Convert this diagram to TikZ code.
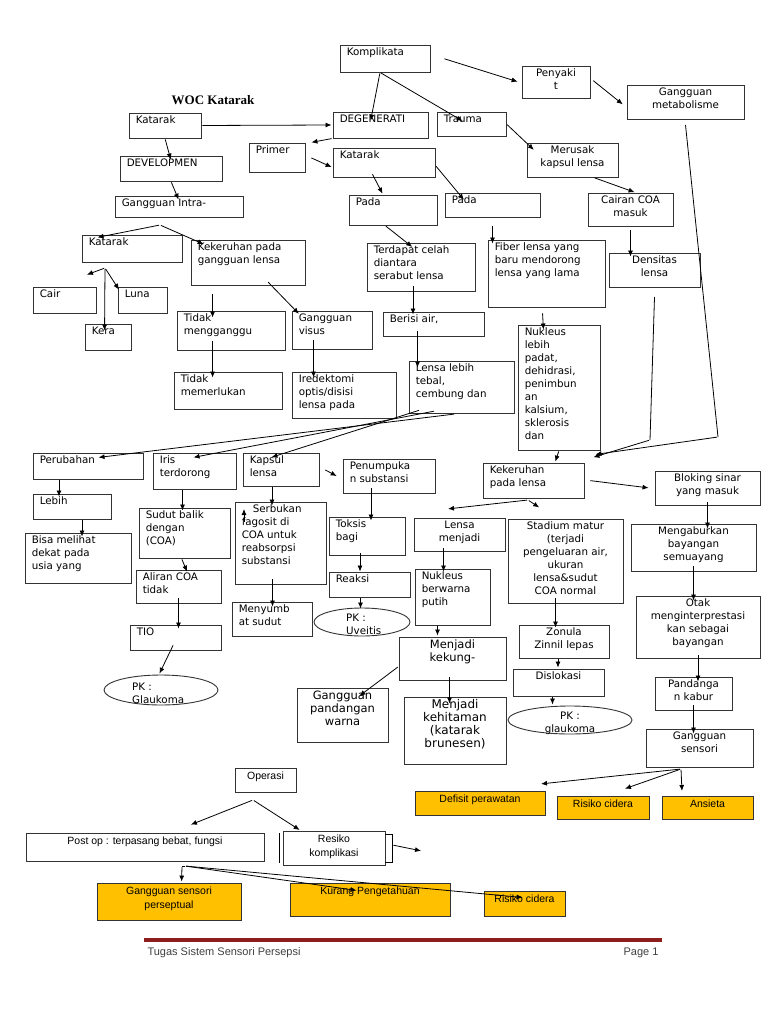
\documentclass[tikz,border=0pt]{standalone}
\usepackage{fontspec}
\setmainfont{DejaVu Sans}
\newfontfamily\arl{Liberation Sans}
\newfontfamily\ser{Liberation Serif}
\usetikzlibrary{arrows.meta,shapes.geometric,calc}
\definecolor{gold}{HTML}{FFC000}
\definecolor{barred}{HTML}{8E1E1E}
\tikzset{
  box/.style={draw=black!80,line width=0.9pt,inner sep=0pt},
  goldbox/.style={box,fill=gold},
  txt/.style={inner sep=0pt,font=\fontsize{10.3}{13}\selectfont,align=left},
  ctxt/.style={inner sep=0pt,font=\fontsize{10.3}{13}\selectfont,align=center},
  atxt/.style={inner sep=0pt,font=\arl\fontsize{10.5}{14}\selectfont,align=center},
  ell/.style={draw=black!80,line width=0.9pt,ellipse,inner sep=0pt},
  arr/.style={-{Latex[length=6pt,width=5pt]},line width=0.8pt,shorten >=1pt,shorten <=1pt},
  ln/.style={line width=0.8pt}
}
\newcommand\bx[7][box]{\node[#1,minimum width={#5-#3},minimum height={#6-#4}] (#2) at ({(#3+#5)/2},{(#4+#6)/2}) {};
  \node[txt,anchor=north west] (#2-t) at ([xshift=7,yshift=-3]#2.north west) {#7};}
\newcommand\bc[7][box]{\node[#1,minimum width={#5-#3},minimum height={#6-#4}] (#2) at ({(#3+#5)/2},{(#4+#6)/2}) {};
  \node[ctxt,anchor=north] (#2-t) at ([yshift=-3]#2.north) {#7};}
\newcommand\ba[7][box]{\node[#1,minimum width={#5-#3},minimum height={#6-#4}] (#2) at ({(#3+#5)/2},{(#4+#6)/2}) {};
  \node[atxt,anchor=north] (#2-t) at ([yshift=-4]#2.north) {#7};}
\begin{document}
\begin{tikzpicture}[x=1pt,y=-1pt]
\useasboundingbox[fill=white] (0,0) rectangle (768,1024);
\node[font=\ser\bfseries\fontsize{13}{15}\selectfont] (title) at (213,100) {WOC Katarak};
\bx{komp}{340}{45}{430}{72}{Komplikata}
\bc{peny}{522}{66}{590}{98}{Penyaki\\t}
\bc{meta}{627}{85}{744}{119}{Gangguan\\metabolisme}
\bx{kat}{129}{113}{201}{138}{Katarak}
\bx{deg}{333}{112}{428}{138}{DEGENERATI}
\bx{trau}{437}{112}{506}{136}{Trauma}
\bx{prim}{249}{143}{305}{172}{Primer}
\bx{sen}{333}{148}{435}{177}{Katarak}
\bx{dev}{120}{156}{222}{181}{DEVELOPMEN}
\bc{meru}{527}{143}{618}{177}{Merusak\\kapsul lensa}
\bx{intra}{115}{196}{243}{217}{Gangguan Intra-}
\bx{kort}{349}{195}{437}{225}{Pada}
\bx{panuk}{445}{193}{540}{217}{Pada}
\bc{cair}{588}{193}{673}{226}{Cairan COA\\masuk}
\bx{total}{82}{235}{182}{262}{Katarak}
\bx{keke}{191}{240}{305}{285}{Kekeruhan pada\\gangguan lensa}
\bx{celah}{367}{243}{475}{291}{Terdapat celah\\diantara\\serabut lensa}
\bx{fiber}{488}{240}{605}{307}{Fiber lensa yang\\baru mendorong\\lensa yang lama}
\bc{dens}{609}{253}{700}{287}{Densitas\\lensa}
\bx{cairr}{33}{287}{96}{313}{Cair}
\bx{luna}{118}{287}{167}{313}{Luna}
\bx{kera}{85}{324}{131}{350}{Kera}
\bx{tidak}{177}{311}{285}{350}{Tidak\\mengganggu}
\bx{visus}{292}{311}{372}{349}{Gangguan\\visus}
\bx{berisi}{383}{312}{484}{336}{Berisi air,}
\bx{nukl}{518}{325}{600}{450}{Nukleus\\lebih\\padat,\\dehidrasi,\\penimbun\\an\\kalsium,\\sklerosis\\dan}
\bx{memer}{174}{372}{282}{409}{Tidak\\memerlukan}
\bx{ired}{292}{372}{396}{418}{Iredektomi\\optis/disisi\\lensa pada}
\bx{tebal}{409}{361}{514}{413}{Lensa lebih\\tebal,\\cembung dan}
\bx{refr}{33}{453}{143}{479}{Perubahan}
\bx{iris}{153}{453}{236}{489}{Iris\\terdorong}
\bx{kaps}{243}{453}{319}{486}{Kapsul\\lensa}
\bx{penum}{343}{459}{435}{493}{Penumpuka\\n substansi}
\bx{kplens}{483}{463}{584}{498}{Kekeruhan\\pada lensa}
\bc{blok}{655}{471}{760}{505}{Bloking sinar\\yang masuk}
\bx{lebih}{33}{494}{111}{519}{Lebih}
\bx{sudut}{139}{508}{230}{558}{Sudut balik\\dengan\\(COA)}
\bx{serb}{235}{502}{326}{584}{\hspace*{11pt}Serbukan\\fagosit di\\COA untuk\\reabsorpsi\\substansi}
\draw[arr] (244,523) -- (244,508);
\bx{toks}{329}{517}{405}{555}{Toksis\\bagi}
\bc{lmen}{414}{518}{505}{551}{Lensa\\menjadi}
\bc{stad}{508}{519}{623}{603}{Stadium matur\\(terjadi\\pengeluaran air,\\ukuran\\lensa\&sudut\\COA normal}
\bc{kabur}{631}{524}{756}{571}{Mengaburkan\\bayangan\\semuayang}
\bx{bisa}{25}{533}{131}{583}{Bisa melihat\\dekat pada\\usia yang}
\bx{aliran}{136}{570}{221}{603}{Aliran COA\\tidak}
\bx{reak}{329}{572}{410}{597}{Reaksi}
\bx{nbw}{415}{569}{490}{625}{Nukleus\\berwarna\\putih}
\bc{otak}{636}{596}{760}{658}{Otak\\menginterprestasi\\kan sebagai\\bayangan}
\bx{nyumb}{232}{602}{312}{636}{Menyumb\\at sudut}
\node[ell,minimum width=96,minimum height=28] (uve) at (362,622) {};
\node[txt,anchor=north west] at (346,614) {PK :\\Uveitis};
\bx{tio}{130}{625}{221}{650}{TIO}
\bc{zon}{519}{625}{609}{658}{Zonula\\Zinnil lepas}
\bc{kekung}{399}{637}{506}{680}{\fontsize{11.5}{15}\selectfont Menjadi\\\fontsize{11.5}{15}\selectfont kekung-}
\bc{dislo}{513}{669}{604}{696}{Dislokasi}
\bc{pand}{655}{677}{732}{710}{Pandanga\\n kabur}
\node[ell,minimum width=114,minimum height=30] (glau) at (161,690) {};
\node[txt,anchor=north west] at (132,683) {PK :\\Glaukoma};
\bc{warna}{297}{688}{388}{742}{\fontsize{11.5}{14}\selectfont Gangguan\\\fontsize{11.5}{14}\selectfont pandangan\\\fontsize{11.5}{14}\selectfont warna}
\bc{hitam}{404}{697}{506}{764}{\fontsize{12}{15}\selectfont Menjadi\\\fontsize{12}{15}\selectfont kehitaman\\\fontsize{12}{15}\selectfont (katarak\\\fontsize{12}{15}\selectfont brunesen)}
\node[ell,minimum width=124,minimum height=28] (glau2) at (570,720) {};
\node[ctxt,anchor=north] at (570,712) {PK :\\glaukoma};
\bc{gsens}{646}{729}{753}{767}{Gangguan\\sensori}
\ba{oper}{235}{768}{296}{792}{Operasi}
\ba[goldbox]{defi}{415}{791}{545}{815}{Defisit perawatan}
\ba[goldbox]{ris1}{557}{796}{649}{819}{Risiko cidera}
\ba[goldbox]{ansi}{662}{796}{753}{819}{Ansieta}
\ba{post}{26}{833}{264}{861}{Post op : terpasang bebat, fungsi}
\ba{resk}{283}{831}{385}{865}{Resiko\\komplikasi}
\draw[ln] (279,833) -- (279,863);
\draw[ln] (385,834) -- (392,834) -- (392,862) -- (385,862);
\ba[goldbox]{gsp}{97}{883}{241}{920}{Gangguan sensori\\perseptual}
\ba[goldbox]{kurang}{290}{883}{450}{916}{Kurang Pengetahuan}
\ba[goldbox]{ris2}{484}{891}{565}{916}{Risiko cidera}
% connectors
\draw[arr] ([xshift=-5]komp.south) -- ([xshift=-10,yshift=-10]deg.north);
\draw[arr] ([xshift=-5]komp.south) -- ([xshift=-8,yshift=-10]trau.north);
\draw[arr] ([xshift=13]komp.east) -- ([xshift=-3]peny.west);
\draw[arr] ([xshift=2,yshift=2]peny.east) -- ([xshift=-3,yshift=-3]meta.west);
\draw[arr] (kat.east) -- (deg.west);
\draw[arr] (kat.south) -- ([yshift=-5]dev.north);
\draw[arr] (deg.south west) -- ([xshift=5]prim.north east);
\draw[arr] ([xshift=5]prim.east) -- ([yshift=-5]sen.west);
\draw[arr] (dev.south) -- ([yshift=-5]intra.north);
\draw[arr] (trau.east) -- ([xshift=8,yshift=-8]meru.north west);
\draw[arr] ([xshift=-12,yshift=4]sen.south) -- ([xshift=-10]kort.north);
\draw[arr] ([yshift=-3]sen.east) -- ([xshift=20,yshift=-8]panuk.north west);
\draw[arr] ([xshift=-25]meru.south east) -- ([xshift=5]cair.north west -| cair.north);
\coordinate (i1) at (160,225);
\draw[arr] (i1) -- ([xshift=15,yshift=-3]total.north west);
\draw[arr] (i1) -- ([xshift=14,yshift=-5]keke.north west);
\draw[arr] ([xshift=-8]kort.south) -- ([xshift=-8,yshift=-5]celah.north);
\draw[arr] ([yshift=-8]panuk.south) -- ([yshift=-5]panuk.south |- fiber.north);
\draw[arr] ([yshift=-3]cair.south) -- ([yshift=-5]cair.south |- dens.north);
\coordinate (t1) at (105,268);
\draw[arr] (t1) -- (86,275);
\draw[arr] (t1) -- ([xshift=20,yshift=-8]kera.north west);
\draw[arr] (t1) -- ([xshift=2,yshift=-4]luna.north west);
\draw[arr] ([xshift=22,yshift=-8]keke.south west) -- ([xshift=36,yshift=-8]tidak.north west);
\draw[arr] ([xshift=-38,yshift=4]keke.south east) -- ([xshift=8,yshift=-4]visus.north west);
\draw[arr] ([xshift=36,yshift=10]tidak.south west) -- ([xshift=39,yshift=-7]memer.north west);
\draw[arr] ([xshift=22,yshift=10]visus.south west) -- ([xshift=22,yshift=-7]ired.north west);
\draw[arr] ([xshift=-8,yshift=6]celah.south) -- ([xshift=-8,yshift=-4]celah.south |- berisi.north);
\draw[arr] ([xshift=-4,yshift=-5]fiber.south) -- ([xshift=-3,yshift=-6]fiber.south |- nukl.north);
\draw[arr] ([xshift=-16,yshift=6]berisi.south) -- ([xshift=-16,yshift=-8]berisi.south |- tebal.north);
\coordinate (lt) at (455,414);
\draw[arr] (lt) -- ([xshift=65,yshift=-5]refr.north west);
\draw[arr] ([xshift=-20,yshift=3]lt) -- ([xshift=40,yshift=-5]iris.north west);
\draw[arr] ([xshift=-35,yshift=4]lt) -- ([xshift=28,yshift=-5]kaps.north west);
\draw[ln] (dens.south |- 0,297) -- (650,440) coordinate (d1);
\draw[ln] (meta.south |- 0,125) -- (718,437) coordinate (m1);
\draw[arr] (d1) -- ([xshift=8,yshift=5]kplens.north east);
\draw[arr] (m1) -- ([xshift=10,yshift=8]kplens.north east);
\draw[arr] (nukl.south) -- ([xshift=-4]nukl.south |- kplens.north);
\draw[arr] ([xshift=5]kplens.east) -- ([xshift=-5]blok.west);
\coordinate (k1) at (528,500);
\draw[arr] (k1) -- (447,509);
\draw[arr] (k1) -- (540,508);
\draw[arr] ([yshift=4]blok.south) -- ([yshift=-6]blok.south |- kabur.north);
\draw[arr] ([yshift=6]kabur.south) -- ([yshift=-6]kabur.south |- otak.north);
\draw[arr] ([yshift=4]otak.south) -- ([yshift=-6]otak.south |- pand.north);
\draw[arr] ([yshift=6]pand.south) -- ([yshift=-6]pand.south |- gsens.north);
\coordinate (g1) at (681,769);
\draw[arr] (g1) -- (540,784);
\draw[arr] (g1) -- (624,789);
\draw[arr] (g1) -- (682,792);
\draw[arr] ([xshift=-29]refr.south) -- ([xshift=-29,yshift=-4]refr.south |- lebih.north);
\draw[arr] ([xshift=10]lebih.south) -- ([xshift=10,yshift=-5]lebih.south |- bisa.north);
\draw[arr] ([xshift=-12]iris.south) -- ([xshift=-12,yshift=-4]iris.south |- sudut.north);
\draw[arr] ([xshift=-3]sudut.south) -- ([xshift=3,yshift=-3]sudut.south |- aliran.north);
\draw[arr] ([xshift=0,yshift=6]aliran.south) -- ([yshift=-5]aliran.south |- tio.north);
\draw[arr] ([xshift=-2,yshift=6]tio.south) -- ([xshift=-2]glau.north);
\draw[arr] ([xshift=5]kaps.east) -- ([xshift=-5,yshift=-7]kaps.east -| penum.west);
\draw[arr] ([xshift=-9]kaps.south) -- ([xshift=-9,yshift=-5]kaps.south |- serb.north);
\draw[arr] ([xshift=-8,yshift=6]serb.south) -- ([xshift=-8,yshift=-6]serb.south |- nyumb.north);
\draw[arr] ([xshift=-18,yshift=6]penum.south) -- ([xshift=-18,yshift=-5]penum.south |- toks.north);
\draw[arr] ([xshift=-7,yshift=3]toks.south) -- ([xshift=-7,yshift=-1]toks.south |- reak.north);
\draw[arr] ([xshift=-9]reak.south) -- ([xshift=-9,yshift=-2]reak.south |- uve.north);
\draw[arr] ([xshift=-16,yshift=4]lmen.south) -- ([xshift=-16,yshift=-4]lmen.south |- nbw.north);
\draw[arr] ([xshift=-15]nbw.south) -- ([xshift=-15]nbw.south |- kekung.north);
\draw[arr] ([xshift=-3,yshift=4]kekung.south) -- ([xshift=-3,yshift=-8]kekung.south |- hitam.north);
\draw[arr] ([yshift=-8]kekung.west) -- ([xshift=62,yshift=-9]warna.north west);
\draw[arr] ([xshift=-10,yshift=6]stad.south) -- ([xshift=-10,yshift=-4]stad.south |- zon.north);
\draw[arr] ([xshift=-6]zon.south) -- ([xshift=-6]zon.south |- dislo.north);
\draw[arr] ([xshift=-6]dislo.south) -- ([xshift=-6]dislo.south |- glau2.north);
\coordinate (o1) at (253,800);
\draw[arr] (o1) -- (190,825);
\draw[arr] (o1) -- ([xshift=18]resk.north west);
\coordinate (re) at (422,851);
\draw[arr] ([xshift=7,yshift=3]resk.east) -- (re);
\coordinate (p1) at (185,866);
\draw[ln] (p1) -- (182,866);
\draw[arr] (182,866) -- ([xshift=85]gsp.north west);
\draw[arr] (p1) -- ([xshift=68,yshift=-8]kurang.north west);
\draw[arr] (p1) -- ([xshift=40,yshift=-7]ris2.north west);
% footer
\draw[barred,line width=4pt] (144,940) -- (662,940);
\node[font=\arl\fontsize{11}{13}\selectfont,anchor=west,text=black!75] (foot) at (144,953) {Tugas Sistem Sensori Persepsi};
\node[font=\arl\fontsize{11}{13}\selectfont,anchor=east,text=black!75] (page) at (662,953) {Page 1};
\end{tikzpicture}
\end{document}
